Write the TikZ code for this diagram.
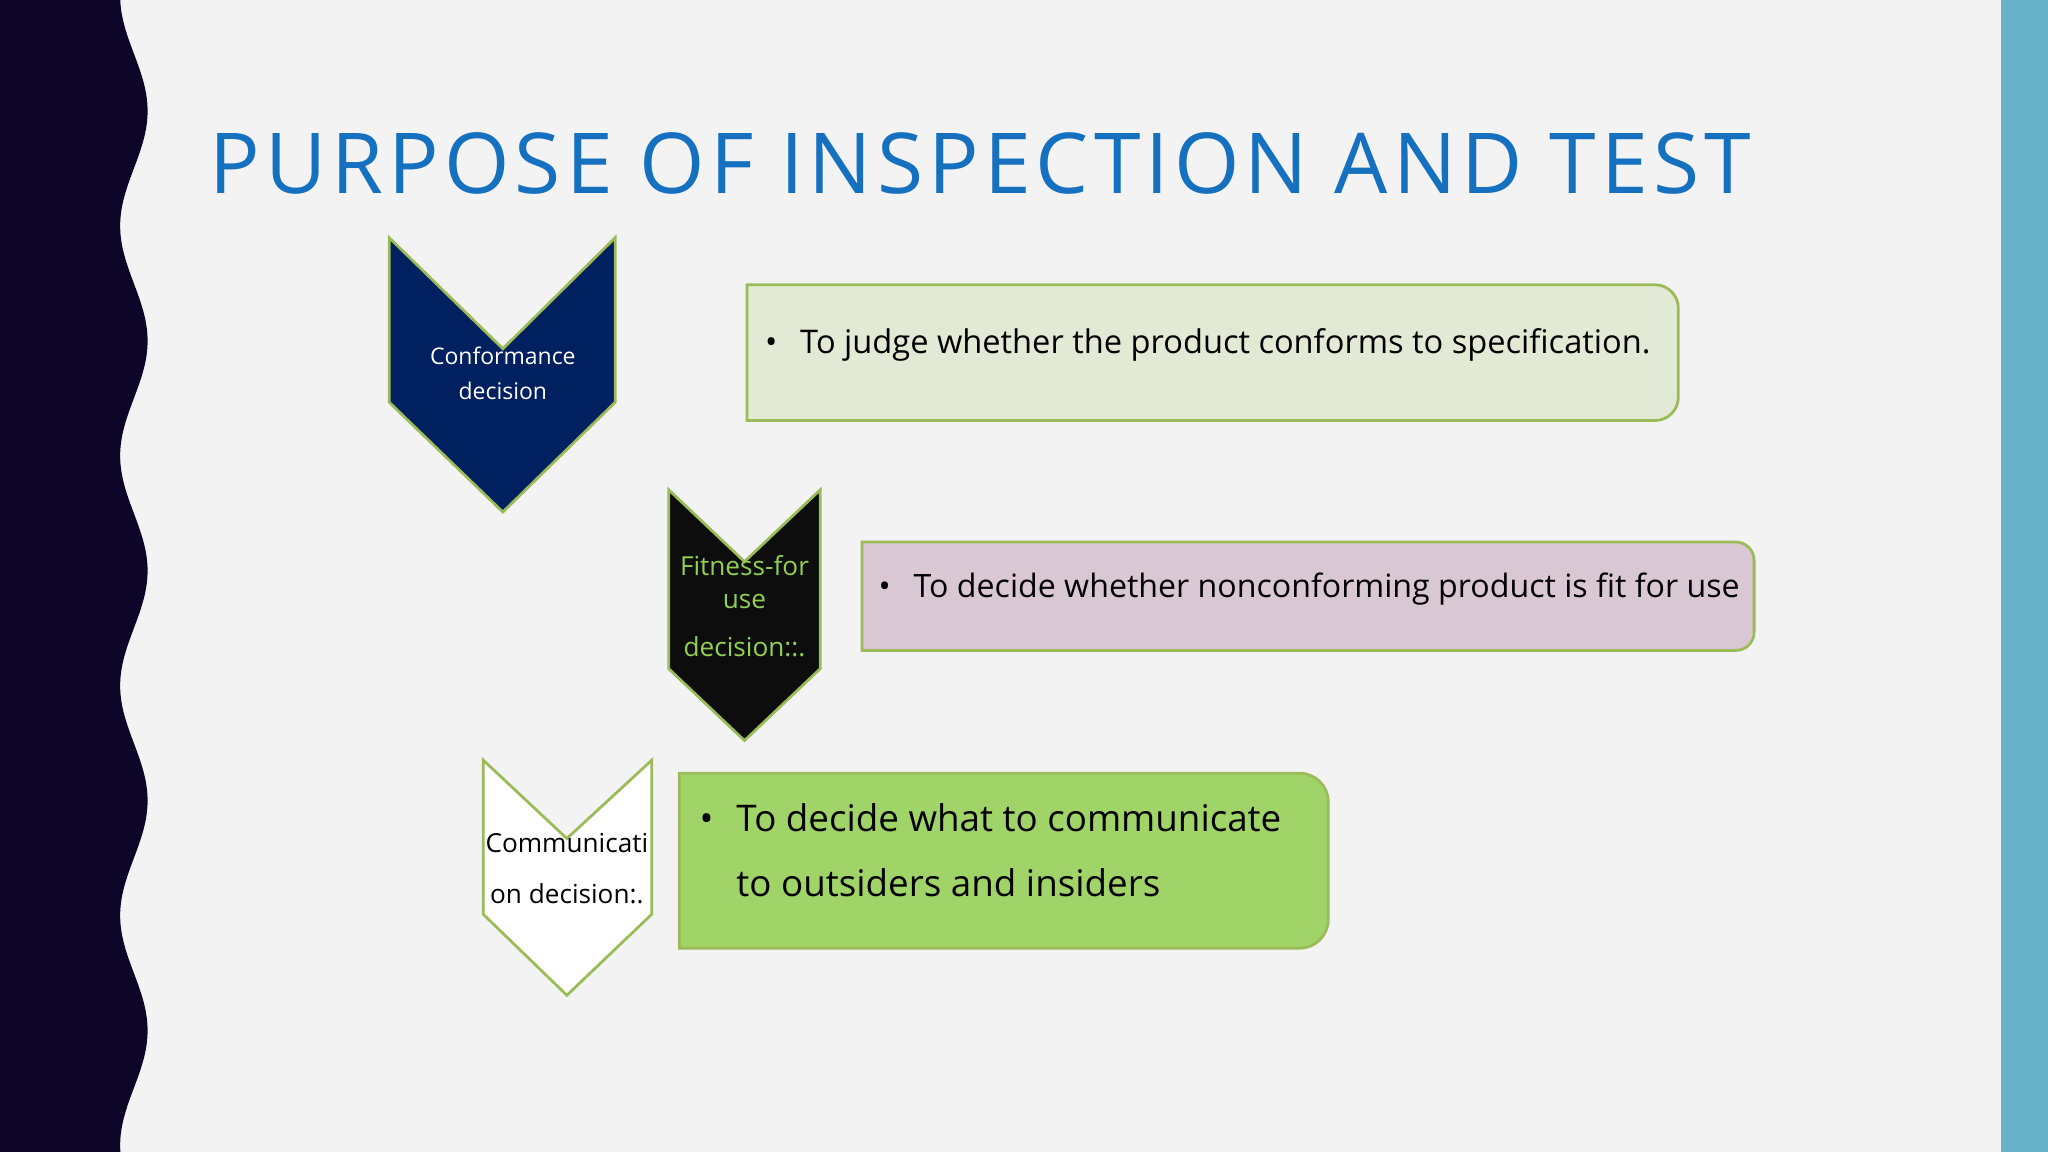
\documentclass[tikz,border=0pt]{standalone}
\usepackage{fontspec}
\setmainfont{Open Sans}
\newfontfamily\titlefont[LetterSpace=6]{Open Sans}
\definecolor{bg}{HTML}{F3F3F4}
\definecolor{navyband}{HTML}{0D0628}
\definecolor{teal}{HTML}{67B2C9}
\definecolor{titleblue}{HTML}{1570C0}
\definecolor{chevnavy}{HTML}{002060}
\definecolor{chevblack}{HTML}{0D0D0D}
\definecolor{olive}{HTML}{9BBB59}
\definecolor{lgreen}{HTML}{92D050}
\definecolor{boxa}{HTML}{E2E9D5}
\definecolor{boxb}{HTML}{D9C7D4}
\definecolor{boxc}{HTML}{A0D468}
\tikzset{chev/.style={draw=olive,line width=0.6pt},
 lbl/.style={align=center,inner sep=0pt}}
\begin{document}
\begin{tikzpicture}[x=0.01cm,y=-0.01cm]
\useasboundingbox (0,0) rectangle (1568,882);
\fill[bg] (0,0) rectangle (1568,882);
\fill[navyband] (0,0) -- plot[domain=0:882,samples=200,smooth] ({102.5+10.5*sin(2.04545*(\x-41))},\x) -- (0,882) -- cycle;
\fill[teal] (1532,0) rectangle (1568,882);
\node[anchor=base west,inner sep=0pt,text=titleblue] (title) at (160,148) {\titlefont\fontsize{18.3}{22}\selectfont PURPOSE OF INSPECTION AND TEST};
% chevrons
\fill[chevnavy] (298,182) -- (385,267) -- (471,182) -- (471,308) -- (385,392) -- (298,308) -- cycle;
\draw[chev] (298,182) -- (385,267) -- (471,182) -- (471,308) -- (385,392) -- (298,308) -- cycle;
\node[lbl,text=white,font=\fontsize{5.0}{7.7}\selectfont] (c1) at (385,286) {Conformance\\decision};
\fill[chevblack] (512,375) -- (570,430) -- (628,375) -- (628,512) -- (570,567) -- (512,512) -- cycle;
\draw[chev] (512,375) -- (570,430) -- (628,375) -- (628,512) -- (570,567) -- (512,512) -- cycle;
\node[lbl,text=lgreen,font=\fontsize{5.7}{7.1}\selectfont] (c2) at (570,464) {Fitness-for\\use\\[3.3pt]decision::.};
\fill[white] (370,582) -- (434,642) -- (499,582) -- (499,700) -- (434,762) -- (370,700) -- cycle;
\draw[chev] (370,582) -- (434,642) -- (499,582) -- (499,700) -- (434,762) -- (370,700) -- cycle;
\node[lbl,text=black,font=\fontsize{5.7}{11}\selectfont] (c3) at (434,665) {Communicati\\on decision:.};
% boxes
\draw[olive,fill=boxa,line width=0.6pt] (572,218) -- (1267,218) arc[start angle=-90,end angle=0,radius=18] -- (1285,304) arc[start angle=0,end angle=90,radius=18] -- (572,322) -- cycle;
\node[anchor=west,inner sep=0pt,font=\fontsize{7.1}{9}\selectfont] (t1) at (585,264) {\textbullet\hspace{5pt}To judge whether the product conforms to specification.};
\draw[olive,fill=boxb,line width=0.6pt] (660,415) -- (1329,415) arc[start angle=-90,end angle=0,radius=14] -- (1343,484) arc[start angle=0,end angle=90,radius=14] -- (660,498) -- cycle;
\node[anchor=west,inner sep=0pt,font=\fontsize{7.0}{9}\selectfont] (t2) at (672,451) {\textbullet\hspace{5pt}To decide whether nonconforming product is fit for use};
\draw[olive,fill=boxc,line width=0.6pt] (520,592) -- (995,592) arc[start angle=-90,end angle=0,radius=22] -- (1017,704) arc[start angle=0,end angle=90,radius=22] -- (520,726) -- cycle;
\node[anchor=west,inner sep=0pt,font=\fontsize{8.0}{14}\selectfont,align=left] (t3) at (535,651) {\textbullet\hspace{5pt}To decide what to communicate\\\hphantom{\textbullet\hspace{5pt}}to outsiders and insiders};
\end{tikzpicture}
\end{document}
